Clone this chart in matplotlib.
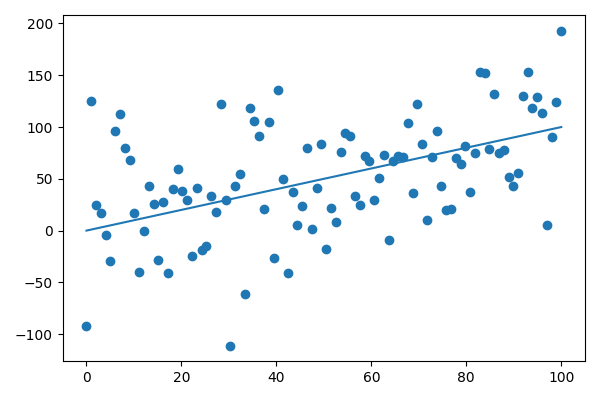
import numpy as np
import matplotlib
matplotlib.use('Agg')
import matplotlib.pyplot as plt

x = np.linspace(0, 100, 100)

y = [-92, 125, 25, 17, -4, -29, 96, 113, 80, 68,
     17, -40, 0, 43, 26, -28, 28, -41, 40, 59,
     38, 30, -25, 41, -19, -15, 33, 18, 122, 30,
     -111, 43, 55, -61, 118, 106, 91, 21, 105, -26,
     136, 50, -41, 37, 5, 24, 80, 2, 41, 84,
     -18, 22, 8, 76, 94, 91, 33, 25, 72, 67,
     30, 51, 73, -9, 67, 72, 71, 104, 36, 122,
     84, 10, 71, 96, 43, 20, 21, 70, 64, 82,
     37, 75, 153, 152, 79, 132, 75, 78, 52, 43,
     56, 130, 153, 118, 129, 114, 5, 90, 124, 193]

# trend line y = x
line_x = [0, 100]
line_y = [0, 100]

fig, ax = plt.subplots(figsize=(6, 4), dpi=100)
ax.scatter(x, y)
ax.plot(line_x, line_y)
plt.tight_layout()
plt.savefig('out.png')
